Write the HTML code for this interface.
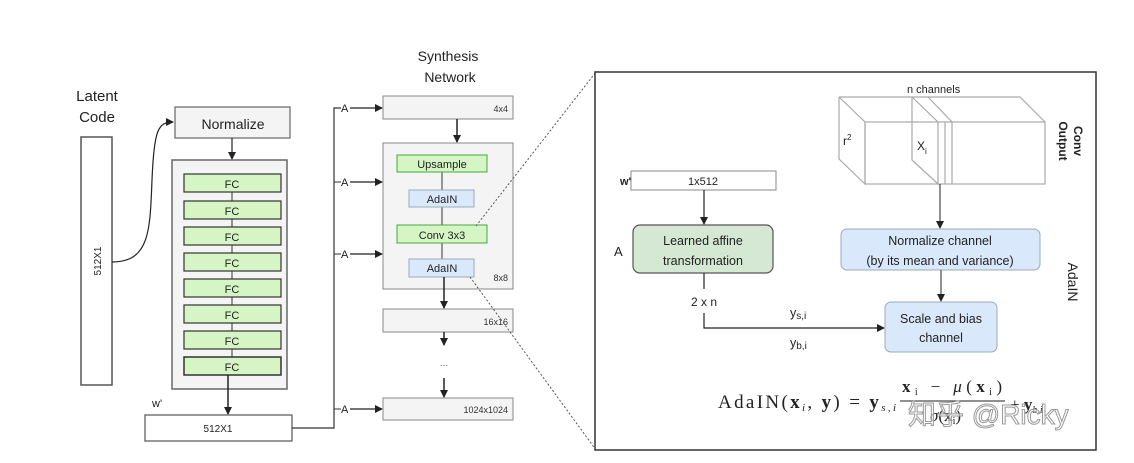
<!DOCTYPE html>
<html><head><meta charset="utf-8"><style>
html,body{margin:0;padding:0;background:#fff;}
svg{display:block;font-family:"Liberation Sans",sans-serif;}
</style></head><body>
<svg width="1134" height="463" viewBox="0 0 1134 463" xmlns="http://www.w3.org/2000/svg">
<defs>
<marker id="ar" markerWidth="8" markerHeight="8" refX="7" refY="4" orient="auto" markerUnits="userSpaceOnUse"><path d="M0,0 L8,4 L0,8 z" fill="#222"/></marker>
</defs>
<rect width="1134" height="463" fill="#fff"/>
<!-- Latent -->
<text x="97" y="101" font-size="15" text-anchor="middle" fill="#222">Latent</text>
<text x="97" y="122" font-size="15" text-anchor="middle" fill="#222">Code</text>
<rect x="81" y="137" width="31" height="248" fill="#fff" stroke="#555" stroke-width="1.5"/>
<text transform="translate(101,261) rotate(-90)" font-size="10" text-anchor="middle" fill="#222">512X1</text>
<path d="M112,262 C150,262 150,230 152,180 C154,130 158,122 173,122" fill="none" stroke="#222" stroke-width="1.2" marker-end="url(#ar)"/>
<!-- Normalize -->
<rect x="175" y="107" width="115" height="31" fill="#f4f4f4" stroke="#666" stroke-width="1.2"/>
<text x="233" y="129" font-size="14" text-anchor="middle" fill="#222">Normalize</text>
<line x1="232" y1="138" x2="232" y2="159" stroke="#222" stroke-width="1.2" marker-end="url(#ar)"/>
<rect x="172" y="160" width="115" height="229" fill="#f4f4f4" stroke="#666" stroke-width="1.5"/>
<line x1="232" y1="180" x2="232" y2="374" stroke="#333" stroke-width="1"/>
<g font-size="11" text-anchor="middle" fill="#222">
<rect x="184" y="174" width="97" height="18" fill="#d5f5c4" stroke="#333" stroke-width="1.2"/><text x="232" y="188">FC</text>
<rect x="184" y="201" width="97" height="18" fill="#d5f5c4" stroke="#333" stroke-width="1.2"/><text x="232" y="215">FC</text>
<rect x="184" y="227" width="97" height="18" fill="#d5f5c4" stroke="#333" stroke-width="1.2"/><text x="232" y="241">FC</text>
<rect x="184" y="253" width="97" height="18" fill="#d5f5c4" stroke="#333" stroke-width="1.2"/><text x="232" y="267">FC</text>
<rect x="184" y="279" width="97" height="18" fill="#d5f5c4" stroke="#333" stroke-width="1.2"/><text x="232" y="293">FC</text>
<rect x="184" y="305" width="97" height="18" fill="#d5f5c4" stroke="#333" stroke-width="1.2"/><text x="232" y="319">FC</text>
<rect x="184" y="331" width="97" height="18" fill="#d5f5c4" stroke="#333" stroke-width="1.2"/><text x="232" y="345">FC</text>
<rect x="184" y="357" width="97" height="18" fill="#d5f5c4" stroke="#333" stroke-width="1.5"/><text x="232" y="371">FC</text>
</g>
<line x1="228" y1="375" x2="228" y2="414" stroke="#222" stroke-width="1.5" marker-end="url(#ar)"/>
<text x="152" y="407" font-size="11" fill="#222">w'</text>
<rect x="145" y="415" width="147" height="26" fill="#fff" stroke="#555" stroke-width="1.2"/>
<text x="218" y="432" font-size="10" text-anchor="middle" fill="#222">512X1</text>
<!-- A bus -->
<polyline points="292,428 334,428 334,108 341,108" fill="none" stroke="#333" stroke-width="1.2"/>
<g font-size="11" fill="#222">
<line x1="334" y1="182" x2="341" y2="182" stroke="#333"/><line x1="334" y1="254" x2="341" y2="254" stroke="#333"/><line x1="334" y1="409" x2="341" y2="409" stroke="#333"/>
<text x="341" y="112">A</text><text x="341" y="186">A</text><text x="341" y="258">A</text><text x="341" y="413">A</text>
<line x1="350" y1="108" x2="382" y2="108" stroke="#222" stroke-width="1.2" marker-end="url(#ar)"/>
<line x1="350" y1="182" x2="382" y2="182" stroke="#222" stroke-width="1.2" marker-end="url(#ar)"/>
<line x1="350" y1="254" x2="382" y2="254" stroke="#222" stroke-width="1.2" marker-end="url(#ar)"/>
<line x1="350" y1="409" x2="382" y2="409" stroke="#222" stroke-width="1.2" marker-end="url(#ar)"/>
</g>
<!-- Synthesis -->
<text x="448" y="61" font-size="14" text-anchor="middle" fill="#222">Synthesis</text>
<text x="450" y="82" font-size="14" text-anchor="middle" fill="#222">Network</text>
<rect x="383" y="96" width="130" height="23" fill="#f4f4f4" stroke="#888"/>
<text x="508" y="112" font-size="9" text-anchor="end" fill="#333">4x4</text>
<line x1="457" y1="119" x2="457" y2="142" stroke="#222" stroke-width="1.5" marker-end="url(#ar)"/>
<rect x="383" y="143" width="130" height="146" fill="#f4f4f4" stroke="#888"/>
<line x1="442" y1="172" x2="442" y2="259" stroke="#333"/>
<rect x="397" y="155" width="90" height="17" fill="#d5f5c4" stroke="#4a4" /><text x="442" y="168" font-size="11" text-anchor="middle" fill="#222">Upsample</text>
<rect x="409" y="190" width="65" height="17" fill="#dae8fc" stroke="#9ab"/><text x="442" y="203" font-size="11" text-anchor="middle" fill="#222">AdaIN</text>
<rect x="397" y="225" width="90" height="18" fill="#d5f5c4" stroke="#4a4"/><text x="442" y="239" font-size="11" text-anchor="middle" fill="#222">Conv 3x3</text>
<rect x="409" y="259" width="65" height="18" fill="#dae8fc" stroke="#9ab"/><text x="442" y="272" font-size="11" text-anchor="middle" fill="#222">AdaIN</text>
<text x="508" y="281" font-size="9" text-anchor="end" fill="#333">8x8</text>
<line x1="444" y1="277" x2="444" y2="308" stroke="#222" stroke-width="1.5" marker-end="url(#ar)"/>
<rect x="383" y="309" width="130" height="23" fill="#f4f4f4" stroke="#888"/>
<text x="508" y="325" font-size="9" text-anchor="end" fill="#333">16x16</text>
<line x1="444" y1="332" x2="444" y2="345" stroke="#222" stroke-width="1.5" marker-end="url(#ar)"/>
<text x="444" y="366" font-size="10" text-anchor="middle" fill="#555">...</text>
<line x1="444" y1="378" x2="444" y2="397" stroke="#222" stroke-width="1.5" marker-end="url(#ar)"/>
<rect x="383" y="398" width="130" height="22" fill="#f4f4f4" stroke="#888"/>
<text x="508" y="413" font-size="9" text-anchor="end" fill="#333">1024x1024</text>
<!-- dashed -->
<line x1="476" y1="226" x2="596" y2="72" stroke="#555" stroke-dasharray="2,2"/>
<line x1="470" y1="277" x2="596" y2="450" stroke="#555" stroke-dasharray="2,2"/>
<!-- Right panel -->
<rect x="595" y="72" width="501" height="378" fill="#fff" stroke="#333" stroke-width="1.5"/>
<text x="620" y="185" font-size="11" font-weight="bold" fill="#222">w'</text>
<rect x="631" y="171" width="145" height="19" fill="#fff" stroke="#888"/>
<text x="703" y="185" font-size="11" text-anchor="middle" fill="#222">1x512</text>
<line x1="704" y1="190" x2="704" y2="224" stroke="#222" stroke-width="1.2" marker-end="url(#ar)"/>
<text x="614" y="256" font-size="13" fill="#222">A</text>
<rect x="633" y="225" width="140" height="48" rx="7" fill="#d5e8d4" stroke="#555" stroke-width="1.2"/>
<text x="703" y="245" font-size="12.5" text-anchor="middle" fill="#222">Learned affine</text>
<text x="703" y="265" font-size="12.5" text-anchor="middle" fill="#222">transformation</text>
<line x1="704" y1="273" x2="704" y2="289" stroke="#222" stroke-width="1.2"/>
<text x="704" y="306" font-size="12" text-anchor="middle" fill="#222">2 x n</text>
<polyline points="704,313 704,328 884,328" fill="none" stroke="#222" stroke-width="1.2" marker-end="url(#ar)"/>
<text x="790" y="317" font-size="12.5" fill="#222">y<tspan font-size="10" dy="2">s,i</tspan></text>
<text x="790" y="347" font-size="12.5" fill="#222">y<tspan font-size="10" dy="2">b,i</tspan></text>
<!-- cube -->
<g fill="none" stroke="#aaa" stroke-width="1.2">
<polyline points="839,97 1020,97 1045,122"/>
<polyline points="839,97 865,122 865,184 839,159 839,97"/>
<rect x="865" y="122" width="180" height="62"/>
<polyline points="912,97 938,122 938,184 912,160 912,97"/>
<polyline points="928,97 952,122 952,184"/>
<line x1="945" y1="122" x2="945" y2="184"/>
</g>
<text x="907" y="93" font-size="11" fill="#222">n channels</text>
<text x="843" y="145" font-size="12" fill="#222">r<tspan font-size="8" dy="-5">2</tspan></text>
<text x="917" y="150" font-size="12" fill="#222">X<tspan font-size="8" dy="4">i</tspan></text>
<text transform="translate(1074,141) rotate(90)" font-size="12" text-anchor="middle" fill="#222" font-weight="bold">Conv</text>
<text transform="translate(1059,141) rotate(90)" font-size="12" text-anchor="middle" fill="#222" font-weight="bold">Output</text>
<text transform="translate(1068,282) rotate(90)" font-size="14" text-anchor="middle" fill="#222">AdaIN</text>
<line x1="940" y1="184" x2="940" y2="228" stroke="#222" marker-end="url(#ar)"/>
<rect x="841" y="229" width="199" height="41" rx="6" fill="#dae8fc" stroke="#9ab"/>
<text x="940" y="245" font-size="12.5" text-anchor="middle" fill="#222">Normalize channel</text>
<text x="940" y="265" font-size="12.5" text-anchor="middle" fill="#222">(by its mean and variance)</text>
<line x1="941" y1="270" x2="941" y2="301" stroke="#222" marker-end="url(#ar)"/>
<rect x="885" y="302" width="112" height="50" rx="6" fill="#dae8fc" stroke="#9ab"/>
<text x="941" y="323" font-size="12.5" text-anchor="middle" fill="#222">Scale and bias</text>
<text x="941" y="342" font-size="12.5" text-anchor="middle" fill="#222">channel</text>
<!-- formula -->
<g font-family="Liberation Serif,serif" fill="#222">
<text x="718" y="408" font-size="19" textLength="178" lengthAdjust="spacing">AdaIN(<tspan font-weight="bold">x</tspan><tspan font-size="11" font-style="italic" dy="3">i</tspan><tspan dy="-3">, </tspan><tspan font-weight="bold">y</tspan>) = <tspan font-weight="bold">y</tspan><tspan font-size="11" font-style="italic" dy="3">s,i</tspan></text>
<text x="902" y="392" font-size="17" textLength="100" lengthAdjust="spacing"><tspan font-weight="bold">x</tspan><tspan font-size="10" dy="3">i</tspan><tspan dy="-3"> − </tspan><tspan font-style="italic">μ</tspan>(<tspan font-weight="bold">x</tspan><tspan font-size="10" dy="3">i</tspan><tspan dy="-3">)</tspan></text>
<line x1="900" y1="401" x2="1005" y2="401" stroke="#222" stroke-width="1"/>
<text x="930" y="421" font-size="17"><tspan font-style="italic">σ</tspan>(<tspan font-weight="bold">x</tspan><tspan font-size="10" dy="3">i</tspan><tspan dy="-3">)</tspan></text>
<text x="1010" y="410" font-size="17">+ <tspan font-weight="bold">y</tspan><tspan font-size="10" font-style="italic" dy="3">b,i</tspan></text>
</g>
<text x="908" y="424" font-size="28" fill="#fff" fill-opacity="0.6" stroke="#999" stroke-width="1" font-family="Liberation Sans,'Noto Sans CJK SC',sans-serif">知乎 @Ricky</text>
</svg>
</body></html>
